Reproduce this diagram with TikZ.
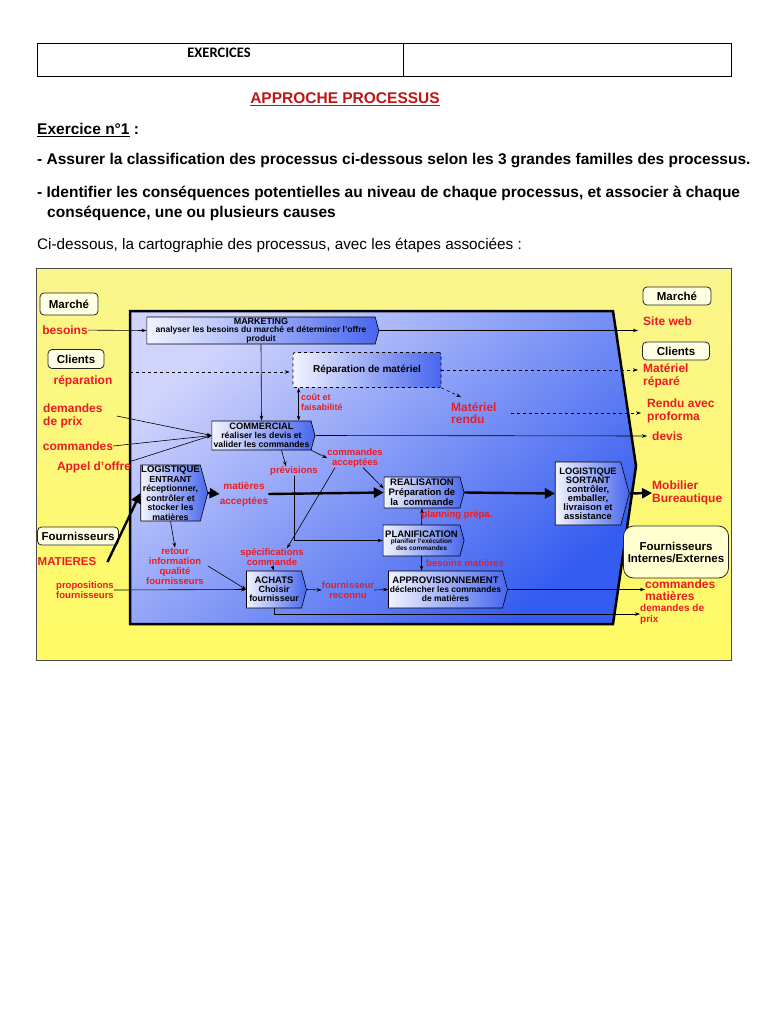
\documentclass[tikz,border=0pt]{standalone}
\usepackage{fontspec}
\setmainfont{Liberation Sans}
\newfontfamily\calibri{Carlito}
\usetikzlibrary{positioning}
\usetikzlibrary{arrows.meta}
\usetikzlibrary{shapes.symbols}
\definecolor{lblred}{RGB}{236,28,36}
\definecolor{ttlred}{RGB}{190,22,22}
\definecolor{bgtop}{RGB}{250,245,140}
\definecolor{bgpale}{RGB}{255,255,228}
\definecolor{bgyel}{RGB}{255,250,100}
\definecolor{zonelt}{RGB}{208,212,252}
\definecolor{zonedk}{RGB}{52,92,240}
\definecolor{boxlt}{RGB}{242,244,255}
\definecolor{boxdk}{RGB}{72,102,238}
\tikzset{
    hdr/.style={anchor=west, inner sep=0pt, font=\fontsize{15.5}{16}\selectfont\bfseries}, % lignes de texte
    lbl/.style={text=lblred, inner sep=0pt, align=left, font=\fontsize{12}{12.5}\selectfont\bfseries}, % flux rouges
    lblsm/.style={lbl, align=center, font=\fontsize{9.5}{10}\selectfont\bfseries},
    sidebox/.style={draw=black!85, line width=0.8pt, rounded corners=4pt, fill=bgpale, inner sep=0pt, font=\fontsize{11.5}{12}\selectfont\bfseries}, % parties interessees
    procbox/.style={shape=signal, signal to=east, signal pointer angle=150, draw=black, line width=0.6pt,
        left color=boxlt, right color=boxdk, inner sep=0.5pt, align=center, font=\fontsize{8.7}{9}\selectfont\bfseries}, % processus
    arr/.style={-{Stealth[length=5pt,width=3.5pt]}, line width=0.6pt},
    dasharr/.style={arr, dashed},
    bigarr/.style={line width=2.4pt, -{Triangle[length=10pt,width=10pt]}}
}
\begin{document}
\begin{tikzpicture}[x=1pt, y=-1pt]
\useasboundingbox (0,0) rectangle (768,1024);
\fill[white] (0,0) rectangle (768,1024);

% en-tete
\draw[line width=0.8pt] (37,43) rectangle (731,76);
\draw[line width=0.8pt] (403,43) -- (403,76);
\node[font=\calibri\fontsize{14.5}{15}\selectfont\bfseries] (exo) at (219,53) {EXERCICES};
\node[text=ttlred, font=\fontsize{15.5}{16}\selectfont\bfseries] (titre) at (345,99) {\underline{APPROCHE PROCESSUS}};
\node[hdr] (exnum) at (37,130) {\underline{Exercice n°1} :};
\node[hdr] (consigne1) at (37,161) {- Assurer la classification des processus ci-dessous selon les 3 grandes familles des processus.};
\node[hdr] (consigne2) at (37,193) {- Identifier les conséquences potentielles au niveau de chaque processus, et associer à chaque};
\node[hdr] (consigne3) at (47,213) {conséquence, une ou plusieurs causes};
\node[hdr, font=\fontsize{15.3}{16}\selectfont] (intro) at (37,245) {Ci-dessous, la cartographie des processus, avec les étapes associées :};

% fonds
\shadedraw[draw=black!70, line width=0.8pt, top color=bgtop, middle color=bgpale, bottom color=bgyel] (36,268) rectangle (731,660);
\shadedraw[line width=2.5pt, top color=zonelt, bottom color=zonedk, shading angle=40]
    (130,311) -- (613,311) -- (636,466) -- (613,624) -- (130,624) -- cycle;

% parties interessees gauche
\node[sidebox, minimum width=58, minimum height=22] (marcheG) at (69,304) {Marché};
\node[lbl] (besoins) at (65,330) {besoins};
\node[sidebox, minimum width=56, minimum height=19] (clientsG) at (76,359) {Clients};
\node[lbl] (reparation) at (83,381) {réparation};
\node[lbl, anchor=west] (dprix) at (43,416) {demandes\\de prix};
\node[lbl] (commandes) at (78,446) {commandes};
\node[lbl] (appel) at (94,467) {Appel d'offre};
\node[sidebox, minimum width=81, minimum height=18] (fournG) at (78,536) {Fournisseurs};
\node[lbl, font=\fontsize{11.5}{12}\selectfont\bfseries] (matieres) at (67,562) {MATIERES};
\node[lblsm] (propos) at (85,590) {propositions\\fournisseurs};

% parties interessees droite
\node[sidebox, minimum width=68, minimum height=18] (marcheD) at (677,296) {Marché};
\node[lbl, anchor=west] (siteweb) at (643,321) {Site web};
\node[sidebox, minimum width=67, minimum height=18] (clientsD) at (676,351) {Clients};
\node[lbl, anchor=west] (matrepare) at (643,376) {Matériel\\réparé};
\node[lbl, anchor=west] (proforma) at (647,411) {Rendu avec\\proforma};
\node[lbl, anchor=west] (devis) at (652,436) {devis};
\node[lbl, anchor=west] (mobilier) at (652,493) {Mobilier\\Bureautique};
\node[sidebox, rounded corners=10pt, fill=bgpale!60!yellow!40!white, minimum width=105, minimum height=52, align=center] (fournD) at (676,552) {Fournisseurs\\Internes/Externes};
\node[lbl, anchor=west] (cmdmat) at (645,590) {commandes\\matières};
\node[lbl, anchor=west, font=\fontsize{10}{11}\selectfont\bfseries] (dprixD) at (640,614) {demandes de\\prix};

% processus
\node[procbox, minimum width=232, minimum height=27, font=\fontsize{8.5}{8.5}\selectfont\bfseries] (marketing) at (261,330.5)
    {\fontsize{9}{8.5}\selectfont MARKETING\\analyser les besoins du marché et déterminer l'offre\\produit};
\node[draw=black, dashed, line width=0.7pt, left color=boxlt, right color=boxdk, rounded corners=2pt,
    minimum width=148, minimum height=35, font=\fontsize{10}{10}\selectfont\bfseries] (repbox) at (367,370) {Réparation de matériel};
\node[procbox, minimum width=103, minimum height=29] (commercial) at (261.5,435.5)
    {\fontsize{9.3}{9}\selectfont COMMERCIAL\\réaliser les devis et\\valider les commandes};
\node[procbox, minimum width=65, minimum height=56, font=\fontsize{8.8}{9.5}\selectfont\bfseries] (logent) at (170.5,493)
    {\fontsize{9.5}{9.5}\selectfont LOGISTIQUE\\ENTRANT\\réceptionner,\\contrôler et\\stocker les\\matières};
\node[procbox, minimum width=80, minimum height=31, font=\fontsize{9.5}{10}\selectfont\bfseries] (realis) at (422,492.5)
    {REALISATION\\Préparation de\\la~ commande};
\node[procbox, minimum width=81, minimum height=31, font=\fontsize{6.5}{6.5}\selectfont\bfseries] (planif) at (421.5,540.5)
    {\fontsize{9.5}{10}\selectfont PLANIFICATION\\planifier l'exécution\\des commandes};
\node[procbox, minimum width=60, minimum height=37, font=\fontsize{9}{9}\selectfont\bfseries] (achats) at (274,589.5)
    {\fontsize{9.5}{9}\selectfont ACHATS\\Choisir\\fournisseur};
\node[procbox, minimum width=119, minimum height=37, font=\fontsize{8.5}{9}\selectfont\bfseries] (appro) at (445.5,589.5)
    {\fontsize{9.5}{9.5}\selectfont APPROVISIONNEMENT\\déclencher les commandes\\de matières};
\node[procbox, minimum width=74, minimum height=63, font=\fontsize{9.3}{9}\selectfont\bfseries] (logsort) at (588,493.5)
    {LOGISTIQUE\\SORTANT\\contrôler,\\emballer,\\livraison et\\assistance};

% flux internes
\node[lblsm, font=\fontsize{9}{9.5}\selectfont\bfseries, align=left, anchor=west] (coutfais) at (301,402) {coût et\\faisabilité};
\node[lbl, anchor=west] (matrendu) at (451,413) {Matériel\\rendu};
\node[lblsm] (previsions) at (294,471) {prévisions};
\node[lblsm] (cmdacc) at (355,458) {commandes\\acceptées};
\node[lblsm, font=\fontsize{10}{15}\selectfont\bfseries] (matacc) at (244,494) {matières\\acceptées};
\node[lblsm] (planning) at (457,515) {planning prépa.};
\node[lblsm] (besmat) at (465,563) {besoins matières};
\node[lblsm] (specif) at (272,557) {spécifications\\commande};
\node[lblsm] (fourrec) at (348,590) {fournisseur\\reconnu};
\node[lblsm] (retour) at (175,566) {retour\\information\\qualité\\fournisseurs};

\coordinate (entreerep) at (130,372);

% connecteurs
\draw[arr] (besoins) -- (marketing.west);
\draw[arr, shorten >=5pt] (marketing.east) -- (marketing.east -| siteweb.west);
\draw[arr] (marketing.south) -- (commercial.north);
\draw[dasharr, shorten >=3pt] (entreerep) -- (entreerep -| repbox.west);
\draw[dasharr, shorten >=5pt] (repbox.east) -- (repbox.east -| matrepare.west);
\draw[dasharr, shorten <=14pt, shorten >=6pt] (matrendu.east) -- (matrendu.east -| proforma.west);
\draw[dasharr] (repbox.south east) -- ([xshift=10pt,yshift=5pt]matrendu.north west);
\draw[{Stealth[length=5pt,width=3.5pt]}-{Stealth[length=5pt,width=3.5pt]}, line width=0.6pt]
    ([xshift=6pt]repbox.south west) -- ([xshift=6pt]repbox.south west |- commercial.north);
\draw[arr] ([xshift=14pt]dprix.east) -- (commercial.west);
\draw[arr] (commandes.east) -- (commercial.west);
\draw[arr] (appel.north east) -- (commercial.west);
\draw[arr, shorten >=5pt] (commercial.east) -- (devis.west);
\draw[arr] ([xshift=20pt]commercial.south) -- ([xshift=-8pt]previsions.north);
\draw[arr] (commercial.south east) -- (cmdacc.west);
\draw[arr] ([xshift=8pt]cmdacc.south) -- ([yshift=4pt]realis.west);
\draw[arr] ([xshift=-20pt]cmdacc.south) -- ([xshift=15pt]specif.north);
\draw[arr] (previsions.south) -- (previsions.south |- planif.west) -- (planif.west);
\draw[arr] (specif.south) -- (achats.north);
\draw[bigarr] (matacc.east) -- (realis.west);
\draw[bigarr] (logent.east) -- (matacc.west);
\draw[bigarr] ([xshift=11pt]matieres.east) -- (logent.west);
\draw[bigarr] (realis.east) -- (logsort.west);
\draw[bigarr] (logsort.east) -- (mobilier.west);
\draw[arr] (logent.south) -- (retour.north);
\draw[arr] ([xshift=4pt]retour.east) -- (achats.west);
\draw[arr] (propos.east) -- (achats.west);
\draw[arr] (achats.east) -- (fourrec.west);
\draw[arr] (fourrec.east) -- (appro.west);
\draw[arr] (planif.north) -- (realis.south);
\draw[arr] (planif.south) -- (planif.south |- appro.north);
\draw[arr] (appro.east) -- (appro.east -| cmdmat.west);
\draw[arr] (achats.south) -- (achats.south |- dprixD.west) -- (dprixD.west);

\end{tikzpicture}
\end{document}
